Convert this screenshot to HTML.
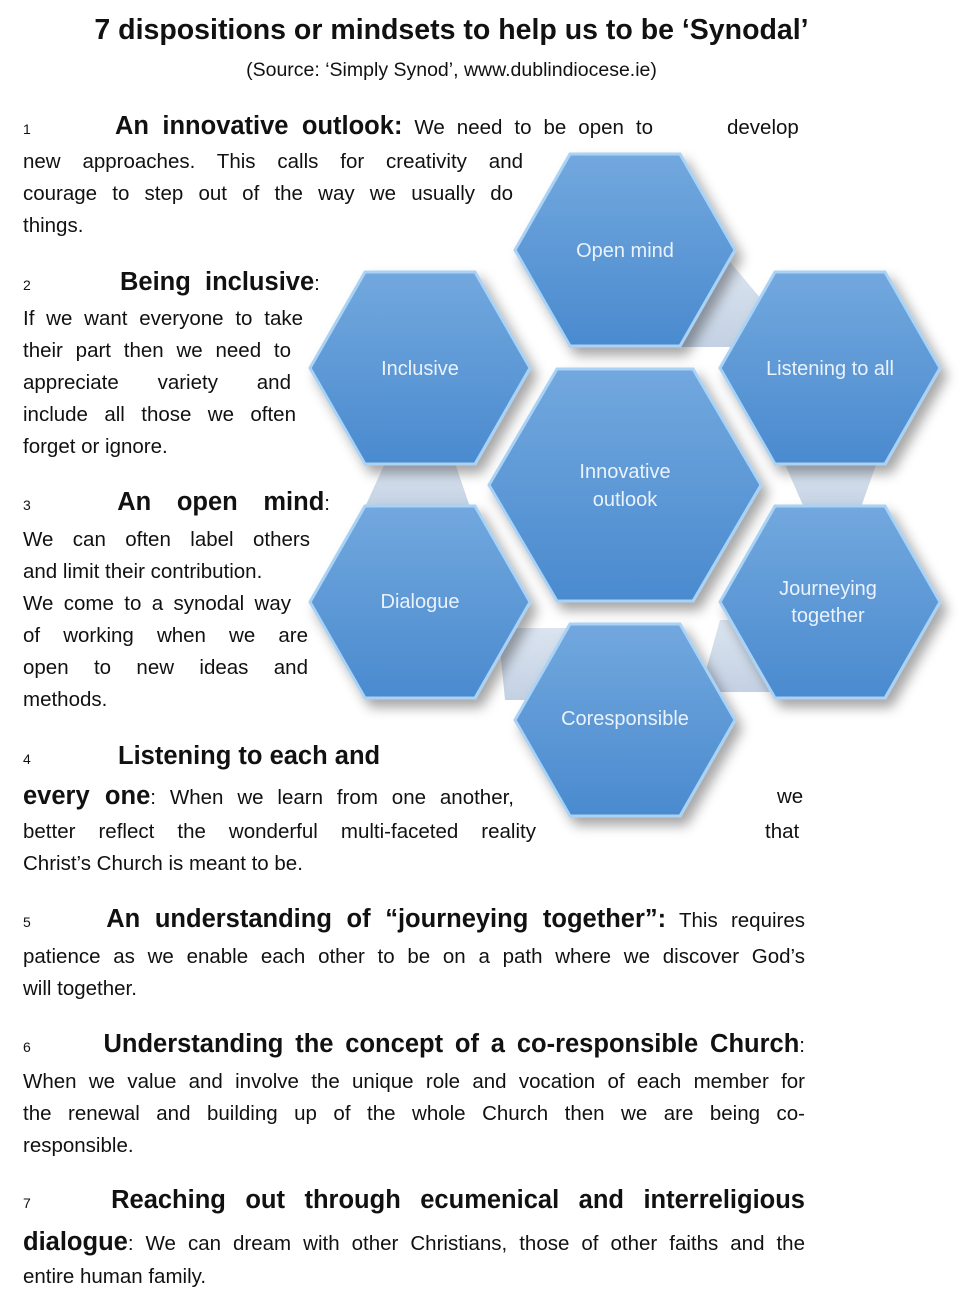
<!DOCTYPE html>
<html><head><meta charset="utf-8"><style>
body{margin:0;background:#fff;}
#p{position:relative;width:980px;height:1297px;overflow:hidden;font-family:"Liberation Sans",sans-serif;color:#111;}
.l{position:absolute;left:23px;white-space:nowrap;font-size:20.5px;line-height:24px;}
.j{text-align:justify;text-align-last:justify;white-space:normal;}
.n{font-size:14px;display:inline-block;width:88px;}
b{font-size:25.5px;}
svg{position:absolute;left:0;top:0;}
</style></head><body><div id="p">
<svg width="980" height="1297">
<defs>
<linearGradient id="g" x1="0" y1="0" x2="0" y2="1"><stop offset="0" stop-color="#72a8de"/><stop offset="1" stop-color="#4a8acf"/></linearGradient>
<linearGradient id="c" x1="0" y1="0" x2="0" y2="1"><stop offset="0" stop-color="#dbe4f0"/><stop offset="1" stop-color="#c3d1e3"/></linearGradient>
<filter id="s" x="-20%" y="-20%" width="150%" height="150%"><feDropShadow dx="6" dy="8" stdDeviation="6" flood-color="#000" flood-opacity="0.35"/></filter>
</defs>
<g fill="url(#c)">
<polygon points="730,262 762,300 742,347 680,347"/>
<polygon points="365,507 385,463 455,463 470,507"/>
<polygon points="784,462 877,462 860,510 805,510"/>
<polygon points="498,628 575,628 540,700 505,700"/>
<polygon points="720,620 760,620 770,692 700,692"/>
</g>
<g fill="url(#g)" stroke="#a9d2f5" stroke-width="3" filter="url(#s)">
<polygon points="515,250 570,154 680,154 735,250 680,346 570,346"/>
<polygon points="310,368 365,272 475,272 530,368 475,464 365,464"/>
<polygon points="720,368 775,272 885,272 940,368 885,464 775,464"/>
<polygon points="489,485 557,369 693,369 761,485 693,601 557,601"/>
<polygon points="310,602 365,506 475,506 530,602 475,698 365,698"/>
<polygon points="720,602 775,506 885,506 940,602 885,698 775,698"/>
<polygon points="515,720 570,624 680,624 735,720 680,816 570,816"/>
</g>
<g fill="#eaf2fb" font-family="Liberation Sans,sans-serif" font-size="20" text-anchor="middle">
<text x="625" y="257">Open mind</text>
<text x="420" y="375">Inclusive</text>
<text x="830" y="375">Listening to all</text>
<text x="625" y="478">Innovative</text>
<text x="625" y="506">outlook</text>
<text x="420" y="608">Dialogue</text>
<text x="828" y="595">Journeying</text>
<text x="828" y="622">together</text>
<text x="625" y="725">Coresponsible</text>
</g>
</svg>
<div class="l" style="left:83px;width:737px;top:12px;font-size:28.5px;line-height:36px;font-weight:bold;text-align:center">7 dispositions or mindsets to help us to be ‘Synodal’</div>
<div class="l" style="left:93px;width:717px;top:58px;font-size:19.5px;text-align:center">(Source: ‘Simply Synod’, www.dublindiocese.ie)</div>

<div class="l j" style="top:114px;width:630px"><span class="n" style="width:80px">1</span> <b>An innovative outlook:</b> We need to be open to</div>
<div class="l" style="left:727px;top:116px">develop</div>
<div class="l j" style="top:150px;width:500px">new approaches. This calls for creativity and</div>
<div class="l j" style="top:182px;width:490px">courage to step out of the way we usually do</div>
<div class="l" style="top:214px">things.</div>

<div class="l" style="top:270px"><span class="n" style="width:97px">2</span><b>Being &nbsp;inclusive</b>:</div>
<div class="l j" style="top:307px;width:280px">If we want everyone to take</div>
<div class="l j" style="top:339px;width:268px">their part then we need to</div>
<div class="l j" style="top:371px;width:268px">appreciate variety and</div>
<div class="l j" style="top:403px;width:273px">include all those we often</div>
<div class="l" style="top:435px">forget or ignore.</div>

<div class="l j" style="top:490px;width:307px"><span class="n" style="width:70px">3</span> <b>An open mind</b>:</div>
<div class="l j" style="top:528px;width:287px">We can often label others</div>
<div class="l" style="top:560px">and limit their contribution.</div>
<div class="l j" style="top:592px;width:268px">We come to a synodal way</div>
<div class="l j" style="top:624px;width:285px">of working when we are</div>
<div class="l j" style="top:656px;width:285px">open to new ideas and</div>
<div class="l" style="top:688px">methods.</div>

<div class="l" style="top:744px"><span class="n" style="width:95px">4</span><b>Listening to each and</b></div>
<div class="l j" style="top:784px;width:491px"><b>every one</b>: When we learn from one another,</div>
<div class="l" style="left:777px;top:785px">we</div>
<div class="l j" style="top:820px;width:513px">better reflect the wonderful multi-faceted reality</div>
<div class="l" style="left:765px;top:820px">that</div>
<div class="l" style="top:852px">Christ’s Church is meant to be.</div>

<div class="l j" style="top:907px;width:782px"><span class="n" style="width:70px">5</span> <b>An understanding of “journeying together”:</b> This requires</div>
<div class="l j" style="top:945px;width:782px">patience as we enable each other to be on a path where we discover God’s</div>
<div class="l" style="top:977px">will together.</div>

<div class="l j" style="top:1032px;width:782px"><span class="n" style="width:70px">6</span> <b>Understanding the concept of a co-responsible Church</b>:</div>
<div class="l j" style="top:1070px;width:782px">When we value and involve the unique role and vocation of each member for</div>
<div class="l j" style="top:1102px;width:782px">the renewal and building up of the whole Church then we are being co-</div>
<div class="l" style="top:1134px">responsible.</div>

<div class="l j" style="top:1188px;width:782px"><span class="n" style="width:70px">7</span> <b>Reaching out through ecumenical and interreligious</b></div>
<div class="l j" style="top:1230px;width:782px"><b>dialogue</b>: We can dream with other Christians, those of other faiths and the</div>
<div class="l" style="top:1265px">entire human family.</div>
</div></body></html>
